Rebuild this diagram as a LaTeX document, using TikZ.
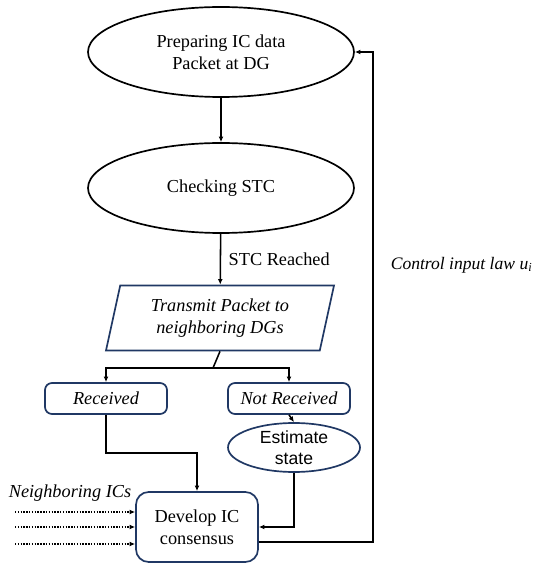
\documentclass[tikz,border=0pt]{standalone}
\usepackage{fontspec}
\setmainfont{Liberation Serif}
\setsansfont{Liberation Sans}
\usetikzlibrary{calc,shapes.geometric,arrows.meta}
\definecolor{navy}{HTML}{203864}
\tikzstyle{oval} = [draw, shape=ellipse, line width=1.2pt, minimum width=6.65cm, minimum height=2.25cm, inner sep=0pt, align=center]
\tikzstyle{slant} = [draw=navy, shape=trapezium, trapezium left angle=70, trapezium right angle=110, trapezium stretches body, line width=1.2pt, minimum width=5.7cm, minimum height=1.625cm, inner sep=0pt, align=center, font=\fontsize{13}{16}\selectfont\itshape]
\tikzstyle{rbox} = [draw=navy, rounded corners=5pt, line width=1.2pt, minimum width=3.05cm, minimum height=0.775cm, inner sep=0pt, font=\fontsize{13}{16}\selectfont\itshape]
\tikzstyle{link} = [line width=1.1pt, -{Latex[length=4pt,width=3.5pt]}]

\begin{document}
\begin{tikzpicture}[font=\fontsize{13}{16}\selectfont]
    \useasboundingbox (0,0) rectangle (13.75,14.275);
    \draw (5.525,12.975) node[oval] (prep) {Preparing IC data\\Packet at DG};
    \draw (5.525,9.575) node[oval] (stc) {Checking STC};
    \draw (5.5,6.325) node[slant] (tx) {Transmit Packet to\\neighboring DGs};
    \draw (2.65,4.3125) node[rbox] (rec) {Received};
    \draw (7.225,4.3125) node[rbox] (nrec) {Not Received};
    \draw (7.35,3.0875) node[draw=navy, shape=ellipse, line width=1.2pt, minimum width=3.3cm, minimum height=1.225cm, inner sep=0pt, align=center, font=\fontsize{12.5}{15}\sffamily] (est) {Estimate\\state};
    \draw (4.925,1.1) node[draw=navy, rounded corners=9pt, line width=1.2pt, minimum width=3.05cm, minimum height=1.75cm, inner sep=0pt, align=center] (dev) {Develop IC\\consensus};
    \node (nbr) at (1.75,1.95) {\itshape Neighboring ICs};
    \node (ctrl) at (11.54,7.65) {\fontsize{12.5}{15}\selectfont\itshape Control input law u\textsubscript{i}};
    \coordinate (br) at (5.325,5.075);
    \coordinate (j1) at (2.65,2.95);
    \coordinate (fb) at (9.325,12.975);

    \draw [link] (prep) -- (stc);
    \draw [link] (stc) -- node [right=2pt] {STC Reached} (tx);
    \draw [line width=1.1pt] (tx.south) -- (br);
    \draw [link] (br) -| (rec.north);
    \draw [link] (br) -| (nrec.north);
    \draw [link] (nrec.south) -- (est.north);
    \draw [link] (rec.south) -- (j1) -| (dev.north);
    \draw [link] (est.south) |- (dev.east);
    \draw [link] ([yshift=-0.375cm]dev.east) -| (fb) -- (prep.east);
    \foreach \dy in {0.375,0,-0.425}
        \draw [link, dash pattern=on 1pt off 1pt] ([yshift=\dy cm]dev.west -| 0.375,0) -- ([yshift=\dy cm]dev.west);
\end{tikzpicture}
\end{document}
